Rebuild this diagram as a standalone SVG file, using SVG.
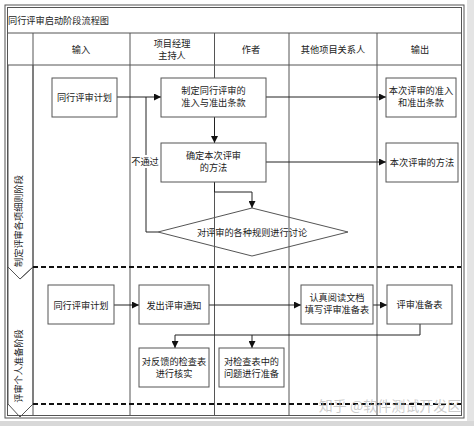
<svg xmlns="http://www.w3.org/2000/svg" width="474" height="426" viewBox="0 0 474 426">
<defs>
<style>
text{font-family:"Noto Sans CJK SC","Liberation Sans",sans-serif;font-size:9.2px;fill:#222;text-anchor:middle}
.box{fill:#fff;stroke:#555;stroke-width:1}
.grid{fill:none;stroke:#555;stroke-width:1}
.dash{fill:none;stroke:#111;stroke-width:2;stroke-dasharray:5 3}
.con{fill:none;stroke:#222;stroke-width:1}
</style>
<marker id="ah" viewBox="0 0 10 10" refX="10" refY="5" markerWidth="7" markerHeight="7" orient="auto" markerUnits="userSpaceOnUse">
<path d="M0,0 L10,5 L0,10 z" fill="#111"/>
</marker>
</defs>
<rect x="0" y="0" width="474" height="426" fill="#fff"/>
<rect x="467" y="0" width="7" height="426" fill="#e4e4e4"/>
<rect x="0" y="421" width="474" height="5" fill="#d8d8d8"/>
<g id="frame">
<rect x="5" y="5" width="459" height="413" class="grid" stroke="#888"/>
<rect x="7.5" y="7.5" width="454" height="408" class="grid"/>
<line x1="7.5" y1="33" x2="461.5" y2="33" class="grid"/>
<line x1="33" y1="65" x2="461.5" y2="65" class="grid"/>
<line x1="33" y1="33" x2="33" y2="415.5" class="grid"/>
<line x1="130" y1="33" x2="130" y2="415.5" class="grid"/>
<line x1="214.5" y1="33" x2="214.5" y2="415.5" class="grid"/>
<line x1="289" y1="33" x2="289" y2="415.5" class="grid"/>
<line x1="377" y1="33" x2="377" y2="415.5" class="grid"/>
<text x="8" y="24" style="text-anchor:start">同行评审启动阶段流程图</text>
<text x="81" y="53">输入</text>
<text x="172" y="46.5">项目经理</text>
<text x="172" y="59">主持人</text>
<text x="251" y="53">作者</text>
<text x="333" y="53">其他项目关系人</text>
<text x="420" y="53">输出</text>
</g>
<g id="phase1">
<polygon points="8,65 33,65 33,267 20,279 8,267" class="grid" fill="none"/>
<text transform="translate(22,221) rotate(-90)">制定评审各项细则阶段</text>
</g>
<g id="phase2">
<polygon points="8,267 20,279 33,267 33,404 20,417 8,404" class="grid" fill="none"/>
<text transform="translate(22,366) rotate(-90)">评审个人准备阶段</text>
</g>
<g id="dashes">
<line x1="33" y1="267" x2="461" y2="267" class="dash"/>
<line x1="33" y1="404" x2="461" y2="404" class="dash"/>
</g>
<g id="connectors">
<polyline points="117,97 161,97" class="con" marker-end="url(#ah)"/>
<polyline points="266,97 386,97" class="con" marker-end="url(#ah)"/>
<polyline points="214.5,117 214.5,143" class="con" marker-end="url(#ah)"/>
<polyline points="266,162 386,162" class="con" marker-end="url(#ah)"/>
<polyline points="214.5,182 214.5,192 252,192 252,208" class="con" marker-end="url(#ah)"/>
<polyline points="158,232 146,232 146,97" class="con"/>
<polyline points="114,305 139,305" class="con" marker-end="url(#ah)"/>
<polyline points="209,305 301,305" class="con" marker-end="url(#ah)"/>
<polyline points="373,305 387,305" class="con" marker-end="url(#ah)"/>
<polyline points="420,324 420,335 175,335 175,348" class="con" marker-end="url(#ah)"/>
<polyline points="252,335 252,348" class="con" marker-end="url(#ah)"/>
<rect x="131" y="155" width="28" height="13" fill="#fff"/>
<text x="145" y="165">不通过</text>
</g>
<g id="n1"><rect x="52" y="78" width="65" height="39" class="box"/><text x="84.5" y="101">同行评审计划</text></g>
<g id="n2"><rect x="161" y="78" width="105" height="39" class="box"/><text x="213.5" y="93.5">制定同行评审的</text><text x="213.5" y="106">准入与准出条款</text></g>
<g id="n3"><rect x="386" y="78" width="70" height="39" class="box"/><text x="421" y="93.5">本次评审的准入</text><text x="421" y="106">和准出条款</text></g>
<g id="n4"><rect x="161" y="143" width="105" height="39" class="box"/><text x="213.5" y="158.5">确定本次评审</text><text x="213.5" y="171">的方法</text></g>
<g id="n5"><rect x="386" y="143" width="72" height="39" class="box"/><text x="422" y="166">本次评审的方法</text></g>
<g id="n6"><polygon points="158,232 252,208 348,232 252,256" fill="none" stroke="#555"/><text x="252" y="236">对评审的各种规则进行讨论</text></g>
<g id="n7"><rect x="48" y="285" width="66" height="39" class="box"/><text x="81" y="309">同行评审计划</text></g>
<g id="n8"><rect x="139" y="285" width="70" height="39" class="box"/><text x="174" y="309">发出评审通知</text></g>
<g id="n9"><rect x="301" y="285" width="72" height="39" class="box"/><text x="337" y="300.5">认真阅读文档</text><text x="337" y="313">填写评审准备表</text></g>
<g id="n10"><rect x="387" y="285" width="65" height="39" class="box"/><text x="419.5" y="308">评审准备表</text></g>
<g id="n11"><rect x="139" y="348" width="70" height="39" class="box"/><text x="174" y="364.5">对反馈的检查表</text><text x="174" y="377">进行核实</text></g>
<g id="n12"><rect x="219" y="348" width="65" height="39" class="box"/><text x="251.5" y="364.5">对检查表中的</text><text x="251.5" y="377">问题进行准备</text></g>
<text x="390" y="411" style="font-size:14px;fill:#bbb;fill-opacity:0.75">知乎 @软件测试开发区</text>
</svg>
